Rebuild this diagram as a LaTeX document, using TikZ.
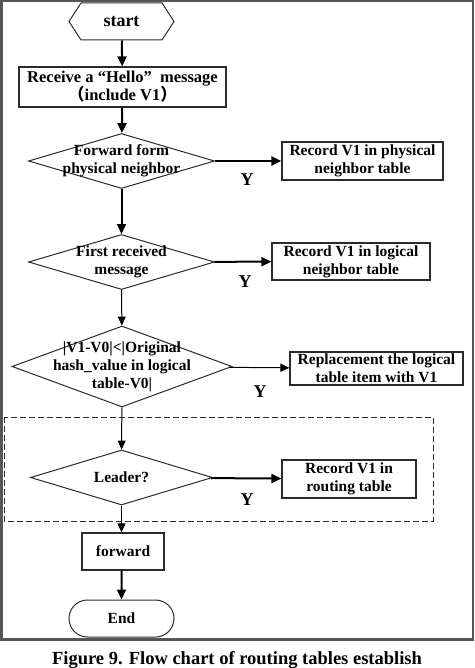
\documentclass[tikz,border=0pt]{standalone}
\usepackage{fontspec}
\setmainfont{Liberation Serif}
\newfontfamily\cjkfont{Noto Sans CJK SC}
\usetikzlibrary{arrows.meta}
\usetikzlibrary{shapes.geometric}
\usetikzlibrary{shapes.misc}
\usetikzlibrary{shapes.symbols}
\definecolor{framegray}{HTML}{555555}
\definecolor{linegray}{HTML}{2B2B2B}
\newcommand{\flowfont}{\bfseries\fontsize{15.5pt}{18pt}\selectfont}
\newcommand{\midx}{121.5}
\tikzset{%
  flowbox/.style={draw=linegray, line width=1.2pt, rectangle, inner sep=0, align=center, font=\flowfont},
  flowtest/.style={draw=linegray, line width=1pt, diamond, inner sep=0},
  flowtext/.style={align=center, inner sep=0, font=\flowfont},
  thickflow/.style={-{Triangle[length=10pt,width=9pt]}, line width=2pt},
  thinflow/.style={-{Triangle[length=9pt,width=8pt]}, line width=1pt},
  yeslabel/.style={font=\bfseries\fontsize{18pt}{18pt}\selectfont, inner sep=0}
}

\begin{document}
\begin{tikzpicture}[x=1pt, y=-1pt]
\clip (0,0) rectangle (474,668);
\fill[white] (0,0) rectangle (474,668);
\draw[framegray, line width=2.5pt] (1.25,1.25) rectangle (472.75,639.5);

% main column
\node (start) at (\midx, 21.5) [signal, signal to=west and east, signal pointer angle=114, draw=linegray, line width=1pt, minimum width=105pt, minimum height=37pt, inner sep=0, font=\bfseries\fontsize{18pt}{18pt}\selectfont] {start};
\node (hello) at (122.5, 87) [flowbox, minimum width=207pt, minimum height=40pt, font=\bfseries\fontsize{16.5pt}{18pt}\selectfont] {Receive a “Hello”\ \ message\\{\cjkfont （}include V1{\cjkfont ）}};

\node (phys) at (\midx, 161) [flowtest, minimum width=186pt, minimum height=55pt] {};
\node (phys_text) at (\midx, 161) [flowtext] {Forward form\\physical neighbor};

\node (first) at (\midx, 262) [flowtest, minimum width=186pt, minimum height=55pt] {};
\node (first_text) at (\midx, 262) [flowtext] {First received\\message};

\node (hash) at (122, 366.5) [flowtest, minimum width=220pt, minimum height=81pt] {};
\node (hash_text) at (122, 366.5) [flowtext] {|V1-V0|<|Original\\hash\_value in logical\\table-V0|};

\draw[linegray, dash pattern=on 6pt off 3pt, line width=0.8pt] (4,417) rectangle (433,521);

\node (leader) at (\midx, 477.5) [flowtest, minimum width=182pt, minimum height=55pt] {};
\node (leader_text) at (\midx, 477.5) [flowtext] {Leader?};

\node (fwd) at (123, 551.5) [flowbox, minimum width=82pt, minimum height=37pt] {forward};
\node (finish) at (\midx, 618.5) [rounded rectangle, draw=linegray, line width=1pt, minimum width=105pt, minimum height=37pt, inner sep=0, font=\flowfont] {End};

% right column
\node (rec_phys) at (362.5, 161) [flowbox, minimum width=161pt, minimum height=38pt] {Record V1 in physical\\neighbor table};
\node (rec_log) at (351, 261.5) [flowbox, minimum width=158pt, minimum height=37pt] {Record V1 in logical\\neighbor table};
\node (replace) at (376.5, 368.5) [flowbox, minimum width=173pt, minimum height=33pt] {Replacement the logical\\table item with V1};
\node (rec_route) at (349, 479) [flowbox, minimum width=134pt, minimum height=38pt] {Record V1 in\\routing table};

\node (y1) at (247, 180) [yeslabel] {Y};
\node (y2) at (245, 282) [yeslabel] {Y};
\node (y3) at (260, 392) [yeslabel] {Y};
\node (y4) at (247, 500) [yeslabel] {Y};

\draw[thickflow] (start) -- (hello);
\draw[thickflow] (hello) -- (phys);
\draw[thickflow] (phys) -- (rec_phys);
\draw[thickflow] (phys) -- (first);
\draw[thickflow] (first) -- (rec_log);
\draw[thinflow] (first) -- (hash);
\draw[thinflow] (hash) -- (replace);
\draw[thinflow] (hash) -- (leader);
\draw[thickflow] (leader) -- (rec_route);
\draw[thinflow] (leader) -- (fwd.north -| leader.south);
\draw[thickflow] (fwd.south -| finish.north) -- (finish);

\node (caption) at (237, 664) [anchor=base, inner sep=0, font=\bfseries\fontsize{18.5pt}{20pt}\selectfont] {Figure 9. Flow chart of routing tables establish};
\end{tikzpicture}
\end{document}
